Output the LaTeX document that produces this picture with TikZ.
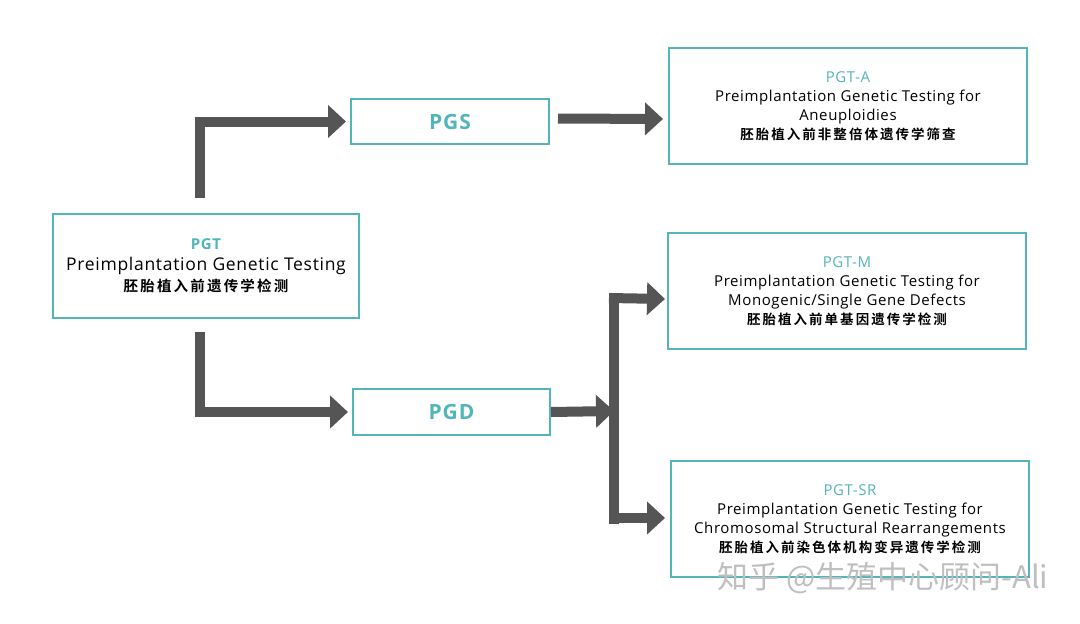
\documentclass[tikz,border=0pt]{standalone}
\usepackage{fontspec}
\setmainfont{Open Sans}[LetterSpace=4]
\newfontfamily\cjk{Noto Sans CJK SC}[BoldFont={* Bold},LetterSpace=15]
\newfontfamily\wmfont{Noto Sans CJK SC}
\usetikzlibrary{arrows.meta,calc}
\definecolor{teal1}{HTML}{52B5BA}
\definecolor{arr}{HTML}{555555}
\tikzset{
 box/.style={draw=teal1,line width=2pt,inner sep=0pt,align=center,anchor=north west},
 flow/.style={draw=arr,line width=10pt,-{Triangle[width=32pt,length=18pt]}},
}
\begin{document}
\begin{tikzpicture}[x=1pt,y=-1pt]
\useasboundingbox (0,0) rectangle (1080,624);
\node[box,minimum width=306pt,minimum height=104pt,font=\fontsize{17.5}{21}\selectfont] (pgt) at (52,213)
 {{\color{teal1}\fontsize{15}{21}\selectfont\bfseries PGT}\\
  Preimplantation Genetic Testing\\
  {\cjk\bfseries\fontsize{14.5}{21}\selectfont 胚胎植入前遗传学检测}};
\node[box,minimum width=198pt,minimum height=45pt,font=\fontsize{21}{24}\selectfont\bfseries,text=teal1] (pgs) at (350,98) {PGS};
\node[box,minimum width=197pt,minimum height=46pt,font=\fontsize{21}{24}\selectfont\bfseries,text=teal1] (pgd) at (352,388) {PGD};
\tikzset{sub/.style={box,minimum width=358pt,minimum height=116pt,font=\fontsize{15}{19}\selectfont}}
\node[sub] (a) at (668,47) {{\color{teal1}PGT-A}\\Preimplantation Genetic Testing for\\Aneuploidies\\{\cjk\bfseries\fontsize{13.5}{19}\selectfont 胚胎植入前非整倍体遗传学筛查}};
\node[sub] (m) at (667,232) {{\color{teal1}PGT-M}\\Preimplantation Genetic Testing for\\Monogenic/Single Gene Defects\\{\cjk\bfseries\fontsize{13.5}{19}\selectfont 胚胎植入前单基因遗传学检测}};
\node[sub] (sr) at (670,460) {{\color{teal1}PGT-SR}\\Preimplantation Genetic Testing for\\Chromosomal Structural Rearrangements\\{\cjk\bfseries\fontsize{13.5}{19}\selectfont 胚胎植入前染色体机构变异遗传学检测}};
\coordinate (up) at (200,198);
\coordinate (dn) at (200,332);
\coordinate (bar) at (614,411);
\draw[flow] (up) |- ($(pgs.west)+(-4,0)$);
\draw[flow] (dn) |- ($(pgd.west)+(-4,0)$);
\draw[flow] ($(pgs.east)+(8,-3)$) -- ($(a.west)+(-5,13)$);
\draw[flow] (pgd.east) -- (bar);
\draw[draw=arr,line width=10pt] (614,293) -- (614,524);
\draw[flow] (609,298) -- ($(m.west)+(-2,8)$);
\draw[flow] (609,518) -- (665,518);
\node[text=black!25,font=\wmfont\fontsize{31}{33}\selectfont,anchor=east] (wm) at (1052,578) {知乎 @生殖中心顾问-Ali};
\end{tikzpicture}
\end{document}
